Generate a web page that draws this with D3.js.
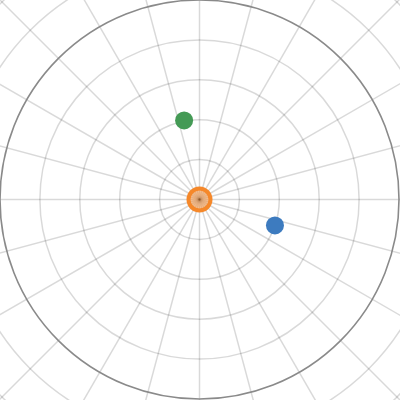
<!DOCTYPE html>
<html>
<head>
<meta charset="utf-8">
<script src="https://cdn.jsdelivr.net/npm/d3@7"></script>
<style>
  body { margin: 0; background: #fff; }
  svg { display: block; }
</style>
</head>
<body>
<div id="chart"></div>
<script>
var w = 400, h = 400;
var cx = 199.5, cy = 199.5;

// data: radius (units) and angle (degrees, clockwise from north)
var names = ["orange", "green", "blue"];
var radii = [0, 2.02, 2.0];
var angles = [0, -11, 109];
var colors = ["#f5882a", "#449a55", "#3d7bbf"];

var ringTicks = [1, 2, 3, 4, 6, 7];
var outerRing = 5;
var spokeAngles = d3.range(0, 360, 15);

var r = d3.scaleLinear().domain([0, 5]).range([0, 199.5]);
var theta = function (deg) { return deg * Math.PI / 180; };

var svg = d3.select("#chart").append("svg").attr("width", w).attr("height", h);
var root = svg.append("g").attr("transform", "translate(" + cx + "," + cy + ")");

// rings
root.append("g").selectAll("circle").data(ringTicks).enter().append("circle")
  .attr("r", function (d) { return r(d); })
  .style("fill", "none").style("stroke", "#000").style("stroke-opacity", 0.15).style("stroke-width", 1.5);

// spokes
root.append("g").selectAll("line").data(spokeAngles).enter().append("line")
  .attr("x1", 0).attr("y1", 0)
  .attr("x2", function (d) { return r(8) * Math.sin(theta(d)); })
  .attr("y2", function (d) { return -r(8) * Math.cos(theta(d)); })
  .style("stroke", "#000").style("stroke-opacity", 0.15).style("stroke-width", 1.5);

// outer boundary
root.append("circle").attr("r", r(outerRing))
  .style("fill", "none").style("stroke", "#8a8a8a").style("stroke-width", 1.6);

// points
var pts = names.map(function (n, i) { return { name: n, r: radii[i], a: angles[i], c: colors[i] }; });
root.append("g").selectAll("circle").data(pts).enter().append("circle")
  .attr("cx", function (d) { return r(d.r) * Math.sin(theta(d.a)); })
  .attr("cy", function (d) { return -r(d.r) * Math.cos(theta(d.a)); })
  .attr("r", function (d) { return d.r === 0 ? 11 : 9; })
  .style("fill", function (d) { return d.c; })
  .style("fill-opacity", function (d) { return d.r === 0 ? 0.5 : 1; })
  .style("stroke", function (d) { return d.r === 0 ? d.c : "none"; })
  .style("stroke-width", 4);
</script>
</body>
</html>
